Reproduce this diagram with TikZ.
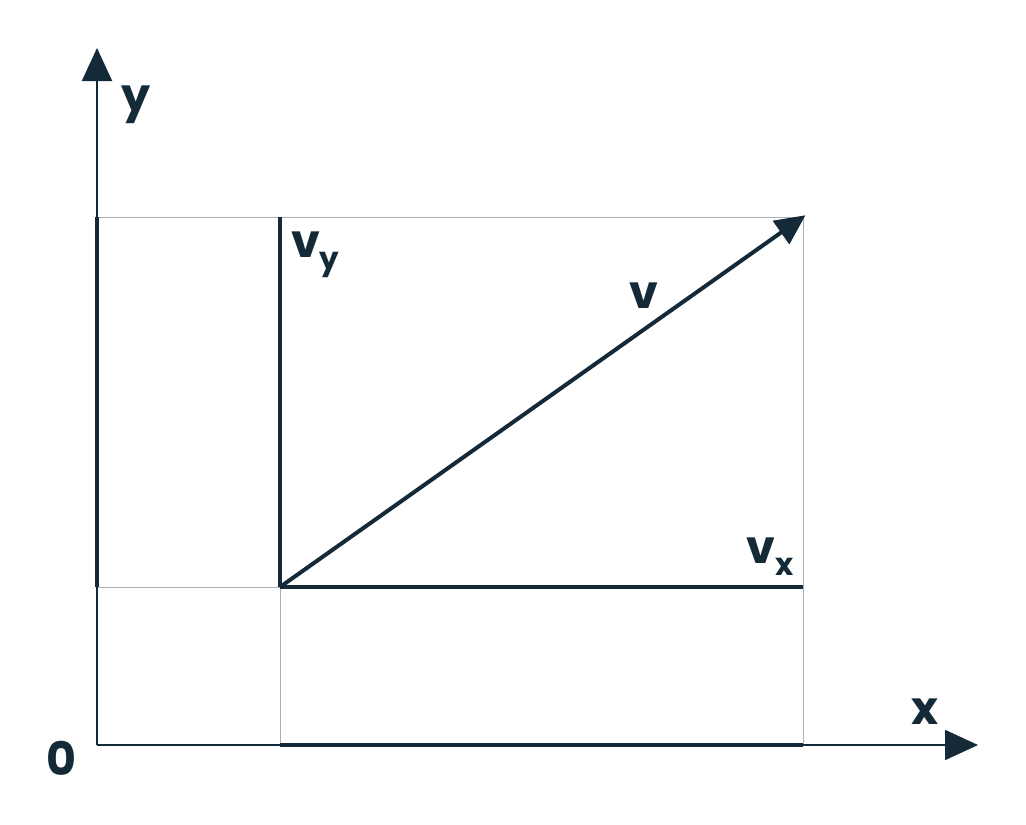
\documentclass[tikz,border=0pt]{standalone}
\usepackage{fontspec}
\setmainfont{Poppins}
\usepackage{tikz}
\usetikzlibrary{arrows.meta}
\definecolor{ink}{HTML}{152A38}
\definecolor{guide}{HTML}{AAB0B5}
\newcommand{\lbl}{\fontsize{46}{50}\selectfont\bfseries}
\newcommand{\sublbl}[1]{\raisebox{-0.28em}{\fontsize{31}{34}\selectfont #1}}
\begin{document}
\begin{tikzpicture}[x=1pt,y=-1pt]
\useasboundingbox (0,0) rectangle (1026,825);
\tikzset{
  axis/.style={draw=ink,line width=2pt,-{Triangle[length=33pt,width=30pt]}},
  comp/.style={draw=ink,line width=4pt},
  guideline/.style={draw=guide,line width=1pt},
  txt/.style={text=ink,inner sep=0pt,anchor=base west}
}
\coordinate (O) at (97,745);
\coordinate (Ytip) at (97,48);
\coordinate (Xtip) at (978,745);
\coordinate (A) at (280,587);
\coordinate (B) at (803,217);
\coordinate (Ay) at (280,217);
\coordinate (Bx) at (803,587);
\coordinate (Ax) at (280,745);
\coordinate (Bxx) at (803,745);
\coordinate (Ya) at (97,587);
\coordinate (Yb) at (97,217);
% guides
\draw[guideline] (Yb) -- (B) -- (Bxx);
\draw[guideline] (Ya) -- (A) -- (Ax);
% axes
\draw[axis] (O) -- (Ytip);
\draw[axis] (O) -- (Xtip);
% components
\draw[comp] (Ya) -- (Yb);
\draw[comp] (A) -- (Ay);
\draw[comp] (A) -- (Bx);
\draw[comp] (Ax) -- (Bxx);
\draw[comp,shorten >=-3pt,-{Triangle[length=30pt,width=28pt]}] (A) -- (B);
% labels
\node[txt] (ylab) at (121,111) {\lbl y};
\node[txt] (xlab) at (911,724) {\lbl x};
\node[txt] (olab) at (46,775) {\lbl 0};
\node[txt] (vlab) at (629,308) {\lbl v};
\node[txt] (vylab) at (291,257) {\lbl v\sublbl{y}};
\node[txt] (vxlab) at (746,563) {\lbl v\sublbl{x}};
\end{tikzpicture}
\end{document}
